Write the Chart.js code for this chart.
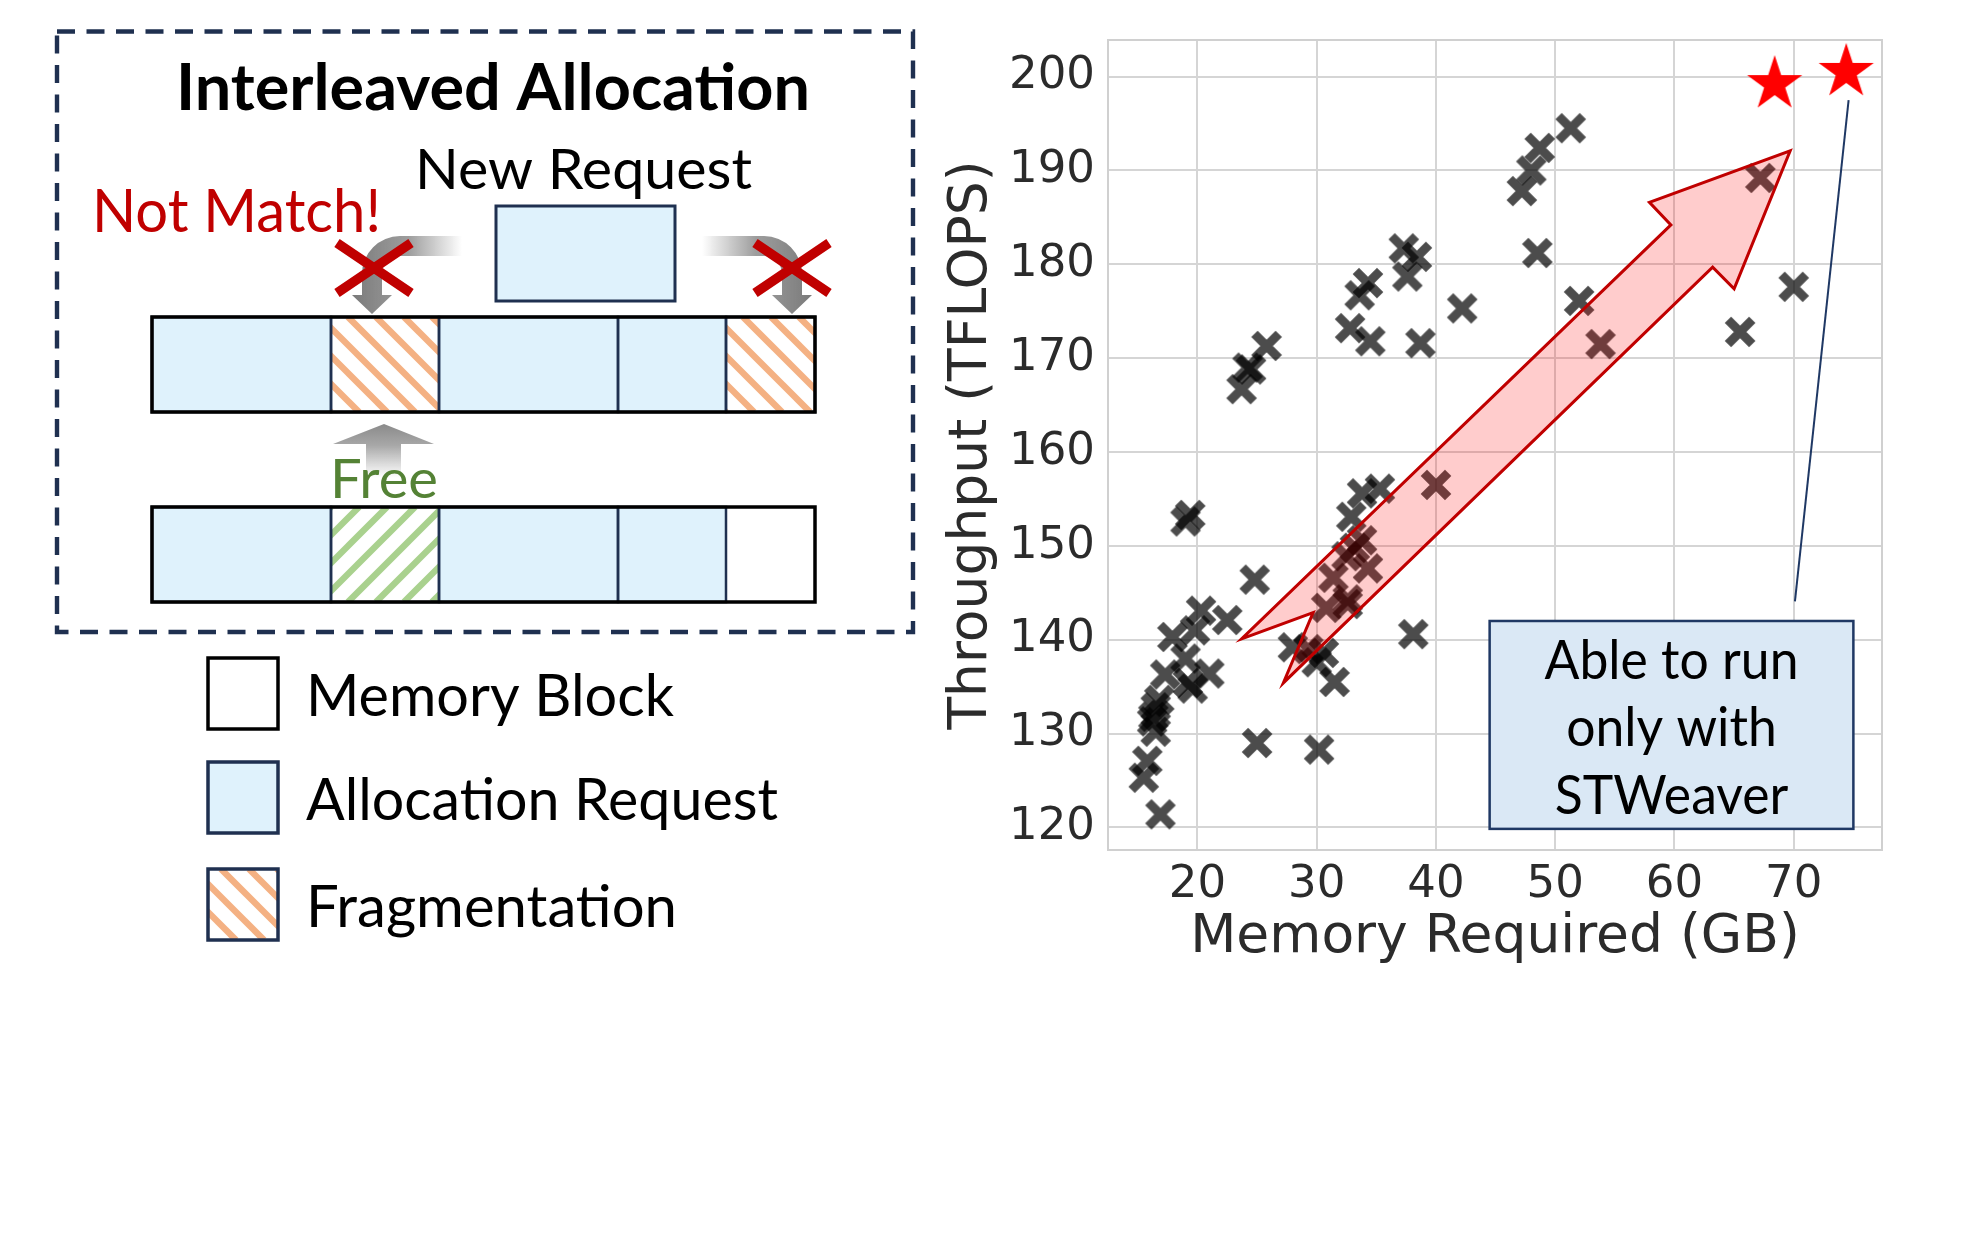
<!DOCTYPE html>
<html><head><meta charset="utf-8">
<script src="https://cdn.jsdelivr.net/npm/chart.js@4.4.1/dist/chart.umd.min.js"></script>
<style>html,body{margin:0;padding:0;background:#fff;overflow:hidden}canvas{display:block}</style>
</head><body>
<canvas id="c" width="1972" height="1256"></canvas>
<script>
// ---------- data ----------
const memoryGB = [20.3,19.8,22.5,17.9,19.0,17.3,21.0,19.2,19.6,16.8,16.5,16.2,16.5,15.8,15.5,16.9,25.0,30.2,38.1,28.0,
  29.3,30.0,30.6,31.5,30.8,32.6,25.8,24.2,24.5,23.7,19.0,19.4,33.8,35.3,32.9,33.8,32.5,33.2,34.3,31.4,
  32.6,24.8,40.0,51.3,48.7,48.0,47.2,48.5,37.3,38.4,37.6,42.2,38.7,52.0,53.8,34.3,33.6,32.8,34.5,67.2,
  70.0,65.5,16.3];
const throughputTFLOPS = [143.1,141.0,142.1,140.3,138.0,136.3,136.4,135.4,134.8,133.6,132.8,131.3,130.2,127.1,125.3,121.4,129.0,128.3,140.6,139.2,
  139.0,137.6,138.6,135.5,143.4,143.8,171.3,169.0,168.8,166.7,152.6,153.3,155.6,156.1,153.1,150.6,148.9,149.8,147.6,146.6,
  144.3,146.4,156.5,194.5,192.4,190.0,187.8,181.2,181.7,180.8,178.7,175.3,171.6,176.1,171.5,178.0,176.7,173.2,171.8,189.2,
  177.6,172.8,131.8];
const starMemoryGB = [68.4, 74.4];
const starThroughput = [199.2, 200.5];
const xTickValues = [20,30,40,50,60,70];
const yTickValues = [120,130,140,150,160,170,180,190,200];
// trend arrow outline (data units)
const arrowMemGB  = [23.7,29.7,27.2,63.2,65.0,69.7,57.9,59.7];
const arrowTflops = [140.1,142.9,135.4,179.7,177.4,192.1,186.6,184.2];
// callout line and note box (data units)
const calloutMemGB = [74.6, 70.1];
const calloutTflops = [197.5, 144.1];
const noteMemGB = [44.5, 75.0];
const noteTflops = [119.85, 142.0];
const noteLines = ['Able to run','only with','STWeaver'];
const legendLabels = ['Memory Block','Allocation Request','Fragmentation'];

// ---------- marker images ----------
function makeX(){
  const S=36, c=document.createElement('canvas'); c.width=S; c.height=S;
  const g=c.getContext('2d'); g.translate(S/2,S/2); g.rotate(Math.PI/4);
  const L=17.2, t=9;
  g.beginPath(); g.rect(-L,-t/2,2*L,t); g.rect(-t/2,-L,t,2*L);
  g.fillStyle='rgba(0,0,0,0.70)'; g.fill('nonzero');
  return c;
}
function makeStar(){
  const S=62, c=document.createElement('canvas'); c.width=S; c.height=S;
  const g=c.getContext('2d'); const R=29, r=R*0.382; g.translate(S/2,S/2);
  g.beginPath();
  for(let i=0;i<10;i++){const a=-Math.PI/2+i*Math.PI/5, rr=i%2?r:R; g.lineTo(rr*Math.cos(a), rr*Math.sin(a));}
  g.closePath(); g.fillStyle='#ff0000'; g.fill();
  return c;
}

// ---------- text helper (Calibri-like, fitted to width) ----------
function fitText(ctx, text, weight, x0, x1, baseline, cap, color){
  const size = cap/0.7165;
  ctx.save();
  ctx.font = weight+' '+size.toFixed(1)+'px Lato';
  const w = ctx.measureText(text).width;
  const sx = (x1-x0)/w;
  ctx.translate(x0, baseline); ctx.scale(sx,1);
  ctx.fillStyle=color; ctx.textBaseline='alphabetic'; ctx.textAlign='left';
  ctx.fillText(text,0,0);
  ctx.restore();
}

function hatch(ctx,x,y,w,h,color,dir){
  ctx.save(); ctx.beginPath(); ctx.rect(x,y,w,h); ctx.clip();
  ctx.strokeStyle=color; ctx.lineWidth=6.5; const step=28;
  for(let k=-h-step;k<w+h+step;k+=step){
    ctx.beginPath();
    if(dir>0){ctx.moveTo(x+k,y+h);ctx.lineTo(x+k+h,y);} else {ctx.moveTo(x+k,y);ctx.lineTo(x+k+h,y+h);}
    ctx.stroke();
  }
  ctx.restore();
}

const BLUE='#DFF2FC', NAVY='#1F3050', ORANGE='#F4B183', GREEN='#A9D18E';

function curvedArrow(ctx, mirror){
  ctx.save();
  if(mirror){ ctx.translate(1164,0); ctx.scale(-1,1); }
  const g=ctx.createLinearGradient(462,0,355,0);
  g.addColorStop(0,'rgba(140,140,140,0)'); g.addColorStop(0.5,'rgba(140,140,140,0.85)'); g.addColorStop(1,'#7c7c7c');
  ctx.beginPath();
  ctx.moveTo(462,236); ctx.lineTo(400,236);
  ctx.arc(400,274,38,-Math.PI/2,Math.PI,true);
  ctx.lineTo(362,295); ctx.lineTo(352,295); ctx.lineTo(372,314); ctx.lineTo(392,295); ctx.lineTo(382,295);
  ctx.lineTo(382,274);
  ctx.arc(400,274,18,Math.PI,-Math.PI/2,false);
  ctx.lineTo(462,256); ctx.closePath();
  ctx.fillStyle=g; ctx.fill();
  ctx.restore();
}

function redX(ctx,cx,cy){
  ctx.save(); ctx.strokeStyle='#C00000'; ctx.lineWidth=9.5; ctx.lineCap='butt';
  ctx.beginPath(); ctx.moveTo(cx-37,cy-25); ctx.lineTo(cx+37,cy+25);
  ctx.moveTo(cx+37,cy-25); ctx.lineTo(cx-37,cy+25); ctx.stroke(); ctx.restore();
}

function barRow(ctx, y, kinds){
  const xs=[152,331,439,618,726,815], h=95;
  for(let i=0;i<5;i++){
    const x=xs[i], w=xs[i+1]-xs[i];
    if(kinds[i]==='b'){ctx.fillStyle=BLUE;ctx.fillRect(x,y,w,h);}
    else if(kinds[i]==='o'){ctx.fillStyle='#fff';ctx.fillRect(x,y,w,h);hatch(ctx,x,y,w,h,ORANGE,-1);}
    else if(kinds[i]==='g'){ctx.fillStyle='#fff';ctx.fillRect(x,y,w,h);hatch(ctx,x,y,w,h,GREEN,1);}
    else {ctx.fillStyle='#fff';ctx.fillRect(x,y,w,h);}
  }
  ctx.strokeStyle=NAVY; ctx.lineWidth=2.5;
  for(let i=0;i<5;i++){ if(kinds[i]!=='w') ctx.strokeRect(xs[i],y,xs[i+1]-xs[i],h); }
  ctx.strokeStyle='#000'; ctx.lineWidth=3.5; ctx.strokeRect(152,y,663,h);
}

function drawDiagram(ctx){
  ctx.save();
  // dashed frame
  ctx.setLineDash([18,11.5]); ctx.strokeStyle=NAVY; ctx.lineWidth=4.4;
  ctx.strokeRect(57,31.5,856,600.5); ctx.setLineDash([]);
  fitText(ctx,'Interleaved Allocation','bold',176,810,109.5,46.5,'#000');
  fitText(ctx,'New Request','normal',415,752,189,40.5,'#000');
  fitText(ctx,'Not Match!','normal',92,381,231.6,42.6,'#C00000');
  // new request block
  ctx.fillStyle=BLUE; ctx.fillRect(496,206,179,95);
  ctx.strokeStyle=NAVY; ctx.lineWidth=3; ctx.strokeRect(496,206,179,95);
  curvedArrow(ctx,false); curvedArrow(ctx,true);
  barRow(ctx,317,['b','o','b','b','o']);
  barRow(ctx,507,['b','g','b','b','w']);
  redX(ctx,374,268); redX(ctx,792,268);
  // free arrow
  const ug=ctx.createLinearGradient(0,424,0,478);
  ug.addColorStop(0,'#8a8a8a'); ug.addColorStop(0.4,'#a8a8a8'); ug.addColorStop(1,'rgba(255,255,255,0.9)');
  ctx.beginPath(); ctx.moveTo(384,424); ctx.lineTo(434,444); ctx.lineTo(401,444); ctx.lineTo(401,478);
  ctx.lineTo(366,478); ctx.lineTo(366,444); ctx.lineTo(333,444); ctx.closePath(); ctx.fillStyle=ug; ctx.fill();
  fitText(ctx,'Free','normal',330,438,498,39,'#548235');
  // legend
  const ly=[658,762,869];
  ctx.fillStyle='#fff'; ctx.fillRect(208,ly[0],70,71);
  ctx.strokeStyle='#000'; ctx.lineWidth=3.5; ctx.strokeRect(208,ly[0],70,71);
  ctx.fillStyle=BLUE; ctx.fillRect(208,ly[1],70,71);
  ctx.strokeStyle=NAVY; ctx.lineWidth=3.5; ctx.strokeRect(208,ly[1],70,71);
  ctx.fillStyle='#fff'; ctx.fillRect(208,ly[2],70,71); hatch(ctx,208,ly[2],70,71,ORANGE,-1);
  ctx.strokeStyle=NAVY; ctx.lineWidth=3.5; ctx.strokeRect(208,ly[2],70,71);
  fitText(ctx,legendLabels[0],'normal',306,674,716,41,'#000');
  fitText(ctx,legendLabels[1],'normal',306,778,820,42,'#000');
  fitText(ctx,legendLabels[2],'normal',306,677,927,42,'#000');
  ctx.restore();
}

const decor = {
  id:'decor',
  beforeDatasetsDraw(chart){
    const {ctx, chartArea:a} = chart;
    ctx.save(); ctx.strokeStyle='#d0d0d0'; ctx.lineWidth=2;
    ctx.strokeRect(a.left,a.top,a.right-a.left,a.bottom-a.top); ctx.restore();
  },
  afterDatasetsDraw(chart){
    const {ctx} = chart, xs=chart.scales.x, ys=chart.scales.y;
    ctx.save();
    // trend arrow
    ctx.beginPath();
    arrowMemGB.forEach((m,i)=>{const px=xs.getPixelForValue(m), py=ys.getPixelForValue(arrowTflops[i]); i?ctx.lineTo(px,py):ctx.moveTo(px,py);});
    ctx.closePath(); ctx.fillStyle='rgba(255,0,0,0.2)'; ctx.fill();
    ctx.strokeStyle='#C00000'; ctx.lineWidth=3; ctx.lineJoin='miter'; ctx.stroke();
    // callout line
    ctx.beginPath();
    ctx.moveTo(xs.getPixelForValue(calloutMemGB[0]), ys.getPixelForValue(calloutTflops[0]));
    ctx.lineTo(xs.getPixelForValue(calloutMemGB[1]), ys.getPixelForValue(calloutTflops[1]));
    ctx.strokeStyle='#1F3864'; ctx.lineWidth=2; ctx.stroke();
    // note box
    const bx0=xs.getPixelForValue(noteMemGB[0]), bx1=xs.getPixelForValue(noteMemGB[1]);
    const by0=ys.getPixelForValue(noteTflops[1]), by1=ys.getPixelForValue(noteTflops[0]);
    ctx.fillStyle='#DAE8F5'; ctx.fillRect(bx0,by0,bx1-bx0,by1-by0);
    ctx.strokeStyle='#1F3864'; ctx.lineWidth=2.5; ctx.strokeRect(bx0,by0,bx1-bx0,by1-by0);
    const size=39/0.7165; ctx.font='normal '+size.toFixed(1)+'px Lato';
    const sx=254/ctx.measureText(noteLines[0]).width, cx=(bx0+bx1)/2;
    const offs=[58,125,193];
    noteLines.forEach((t,i)=>{ctx.save(); ctx.translate(cx,by0+offs[i]); ctx.scale(sx,1);
      ctx.fillStyle='#000'; ctx.textAlign='center'; ctx.textBaseline='alphabetic'; ctx.fillText(t,0,0); ctx.restore();});
    ctx.restore();
  },
  afterDraw(chart){ drawDiagram(chart.ctx); }
};

Chart.defaults.font.family='DejaVu Sans';
const xImg=makeX(), starImg=makeStar();
new Chart(document.getElementById('c'), {
  type:'scatter',
  data:{datasets:[
    {data:memoryGB.map((m,i)=>({x:m,y:throughputTFLOPS[i]})), pointStyle:xImg, pointRadius:16, pointHoverRadius:16},
    {data:starMemoryGB.map((m,i)=>({x:m,y:starThroughput[i]})), pointStyle:starImg, pointRadius:29, pointHoverRadius:29}
  ]},
  options:{
    responsive:false, devicePixelRatio:1, animation:false,
    layout:{padding:{left:936,right:90,top:33,bottom:282}},
    plugins:{legend:{display:false}, tooltip:{enabled:false}},
    scales:{
      x:{type:'linear', min:12.5, max:77.4,
        afterBuildTicks:s=>{s.ticks=xTickValues.map(v=>({value:v}));},
        afterFit:s=>{s.height=124;},
        ticks:{font:{size:45}, color:'#2b2b2b', padding:8},
        grid:{color:'#d5d5d5', lineWidth:2, drawTicks:false}, border:{display:false},
        title:{display:true, text:'Memory Required (GB)', font:{size:53.5}, color:'#2b2b2b'}},
      y:{type:'linear', min:117.6, max:203.9,
        afterBuildTicks:s=>{s.ticks=yTickValues.map(v=>({value:v}));},
        afterFit:s=>{s.width=172;},
        ticks:{font:{size:45}, color:'#2b2b2b', padding:13},
        grid:{color:'#d5d5d5', lineWidth:2, drawTicks:false}, border:{display:false},
        title:{display:true, text:'Throughput (TFLOPS)', font:{size:53.5}, color:'#2b2b2b'}}
    }
  },
  plugins:[decor]
});
</script>
</body></html>
